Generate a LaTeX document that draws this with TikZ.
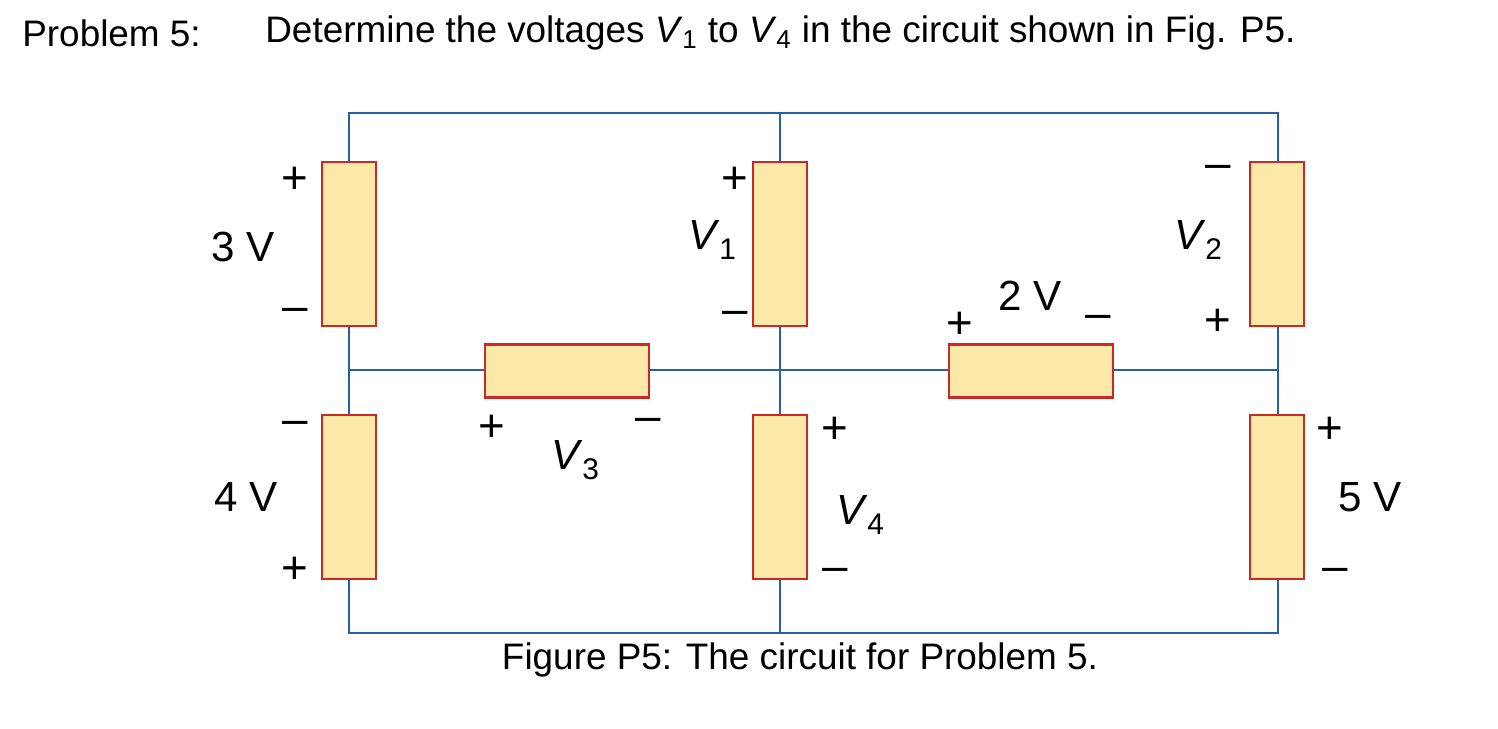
\documentclass[tikz,border=0pt]{standalone}
\usepackage{fontspec}
\setmainfont{Liberation Sans}
\definecolor{wire}{RGB}{40,95,165}
\definecolor{rfill}{RGB}{253,233,167}
\definecolor{redge}{RGB}{205,40,40}
\newcommand{\Vs}[1]{\textit{V}\raisebox{-0.45ex}{\fontsize{17}{17}\selectfont #1}}
\begin{document}
\begin{tikzpicture}[x=0.02cm,y=-0.02cm,
  wire/.style={draw=wire,line width=1.4pt},
  res/.style={draw=redge,fill=rfill,line width=1.3pt,inner sep=0pt},
  lbl/.style={font=\fontsize{24}{26}\selectfont,inner sep=0pt},
  sgn/.style={font=\fontsize{26}{26}\selectfont,inner sep=0pt},
  txt/.style={font=\fontsize{21}{24}\selectfont,inner sep=0pt,anchor=west}]
\useasboundingbox (0,0) rectangle (1498,728);
% wires
\coordinate (tl) at (349,113); \coordinate (tm) at (780,113); \coordinate (tr) at (1278,113);
\coordinate (ml) at (349,370); \coordinate (mr) at (1278,370);
\coordinate (bl) at (349,633); \coordinate (bm) at (780,633); \coordinate (br) at (1278,633);
\draw[wire] (tl) -- (tr) -- (br) -- (bl) -- cycle;
\draw[wire] (tm) -- (bm);
\draw[wire] (ml) -- (mr);
% resistors
\node[res,minimum width=54*0.02cm,minimum height=164*0.02cm] (r1) at (349,244) {};
\node[res,minimum width=54*0.02cm,minimum height=164*0.02cm] (r2) at (349,497) {};
\node[res,minimum width=54*0.02cm,minimum height=164*0.02cm] (r3) at (780,244) {};
\node[res,minimum width=54*0.02cm,minimum height=164*0.02cm] (r4) at (780,497) {};
\node[res,minimum width=54*0.02cm,minimum height=164*0.02cm] (r5) at (1277,244) {};
\node[res,minimum width=54*0.02cm,minimum height=164*0.02cm] (r6) at (1277,497) {};
\node[res,minimum width=164*0.02cm,minimum height=53*0.02cm] (r7) at (567,371) {};
\node[res,minimum width=164*0.02cm,minimum height=53*0.02cm] (r8) at (1031,371) {};
% labels
\node[sgn] (a1) at (295,180) {+};
\node[lbl] (a2) at (243,247) {3 V};
\node[sgn] (a3) at (295,315) {–};
\node[sgn] (b1) at (295,428) {–};
\node[lbl] (b2) at (246,497) {4 V};
\node[sgn] (b3) at (295,570) {+};
\node[sgn] (c1) at (735,180) {+};
\node[lbl] (c2) at (712,240) {\Vs{1}};
\node[sgn] (c3) at (735,318) {–};
\node[sgn] (d1) at (1218,172) {–};
\node[lbl] (d2) at (1198,240) {\Vs{2}};
\node[sgn] (d3) at (1218,322) {+};
\node[sgn] (e1) at (960,325) {+};
\node[lbl] (e2) at (1030,296) {2 V};
\node[sgn] (e3) at (1098,322) {–};
\node[sgn] (f1) at (492,428) {+};
\node[lbl] (f2) at (575,460) {\Vs{3}};
\node[sgn] (f3) at (648,425) {–};
\node[sgn] (g1) at (835,430) {+};
\node[lbl] (g2) at (860,515) {\Vs{4}};
\node[sgn] (g3) at (835,575) {–};
\node[sgn] (h1) at (1330,430) {+};
\node[lbl] (h2) at (1370,497) {5 V};
\node[sgn] (h3) at (1335,575) {–};
% text
\node[txt] (t1) at (22,33) {Problem 5:};
\node[txt] (t2) at (265,33) {Determine the voltages \textit{V}\textsubscript{1} to \textit{V}\textsubscript{4} in the circuit shown in Fig. P5.};
\node[txt,anchor=center] (cap) at (800,660) {Figure P5: The circuit for Problem 5.};
\end{tikzpicture}
\end{document}
